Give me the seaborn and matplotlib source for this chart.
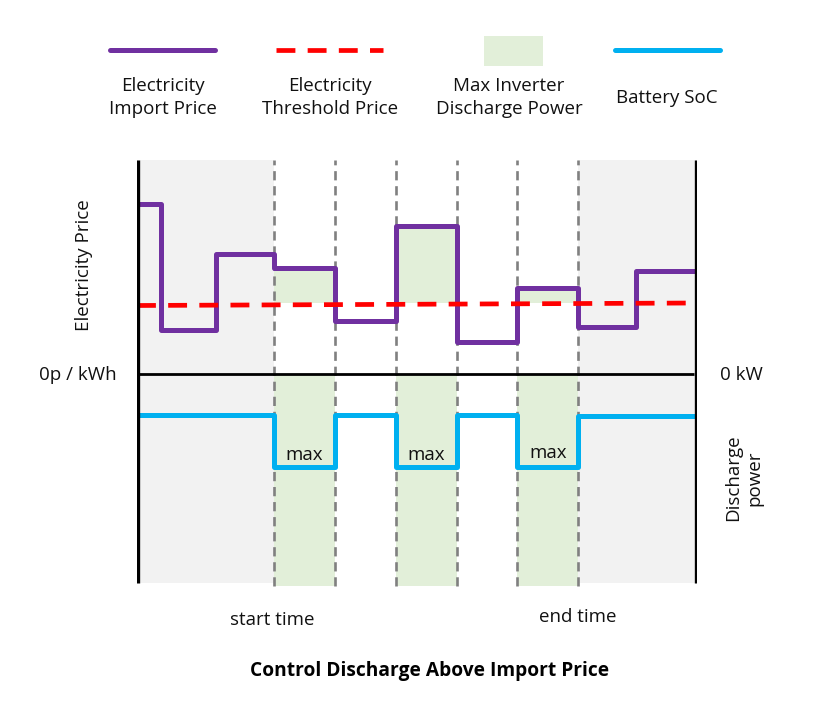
import matplotlib
matplotlib.use("Agg")
import matplotlib.pyplot as plt
import seaborn as sns
import pandas as pd
import numpy as np
from matplotlib.patches import Rectangle
from matplotlib.lines import Line2D

# ---------------- data ----------------
# time-slot boundaries (arbitrary time units)
slot_edges = [0, 0.4, 1.3, 2.25, 3.25, 4.25, 5.25, 6.25, 7.25, 8.2, 9.2]
# import price in each slot (p/kWh, illustrative)
import_price = [34.0, 8.8, 24.0, 21.2, 10.6, 29.6, 6.4, 17.2, 9.4, 20.6]
# threshold price at start and end
threshold_x = [0, 9.2]
threshold_price = [13.7, 14.2]
# control window
window_start = 2.25
window_end = 7.25
# discharge slots (start, end)
discharge_slots = [(2.25, 3.25), (4.25, 5.25), (6.25, 7.25)]
# battery discharge power line
battery_x = [0, 2.25, 3.25, 4.25, 5.25, 6.25, 7.25, 9.2]
battery_power = [-8.2, -18.6, -8.2, -18.6, -8.2, -18.6, -8.3, -8.1]
divider_x = [2.25, 3.25, 4.25, 5.25, 6.25, 7.25]

legend_labels = ["Electricity\nImport Price", "Electricity\nThreshold Price",
                 "Max Inverter\nDischarge Power", "Battery SoC"]

PURPLE = "#7030A0"
RED = "#FF0000"
GREEN = "#E2EFD9"
BLUE = "#00B0F0"
GRAY_BG = "#F2F2F2"
GRAY_LINE = "#808080"

sns.set_theme(style="white")
plt.rcParams['font.family'] = ['Open Sans', 'DejaVu Sans']

W, H = 829, 724
fig = plt.figure(figsize=(W / 100, H / 100), dpi=100)

def fx(px):
    return px / W

def fy(py):
    return 1 - py / H

# main axes: pixel x 137..697, y 160..587
ax = fig.add_axes([fx(137), fy(587), fx(697) - fx(137), fy(160) - fy(587)])
ax.set_xlim(0, 9.2)
ax.set_ylim(-42.6, 42.8)
ax.axis("off")

y_top = 42.8
y_bot = -41.8

# gray background outside control window
ax.fill_between([0, window_start], y_bot, y_top, color=GRAY_BG, lw=0, zorder=0)
ax.fill_between([window_end, 9.2], y_bot, y_top, color=GRAY_BG, lw=0, zorder=0)

# green shading
green_base = max(threshold_price)
for (a, b) in discharge_slots:
    i = slot_edges.index(a)
    p = import_price[i]
    ax.fill_between([a, b], green_base, p, color=GREEN, lw=0, zorder=1)
    ax.fill_between([a, b], y_bot - 0.6, 0, color=GREEN, lw=0, zorder=1)

# dashed dividers
ax.vlines(divider_x, -42.4, y_top, colors=GRAY_LINE, linestyles=(0, (3.5, 2.2)),
          lw=1.9, zorder=2)

# axes lines
ax.vlines([0.02, 9.18], y_bot, y_top, colors="black", lw=2.4, zorder=5)
ax.hlines(0, 0, 9.15, colors="black", lw=2.0, zorder=5)

# price step line
price_df = pd.DataFrame({"t": slot_edges, "price": import_price + [import_price[-1]]})
sns.lineplot(data=price_df, x="t", y="price", ax=ax, color=PURPLE, lw=3.6,
             drawstyle="steps-post", zorder=4, legend=False)

# threshold
thr_df = pd.DataFrame({"t": threshold_x, "price": threshold_price})
sns.lineplot(data=thr_df, x="t", y="price", ax=ax, color=RED, lw=3.4,
             zorder=4, legend=False, dashes=False)
ax.lines[-1].set_linestyle((0, (4, 2.6)))

# battery line
bat_df = pd.DataFrame({"t": battery_x, "p": battery_power})
sns.lineplot(data=bat_df, x="t", y="p", ax=ax, color=BLUE, lw=3.6,
             drawstyle="steps-post", zorder=4, legend=False)
ax.set_xlabel("")
ax.set_ylabel("")

fs = 13.5
# max labels
for (a, b), yy in zip(discharge_slots, [-16.2, -16.2, -15.8]):
    ax.text((a + b) / 2, yy, "max", ha="center", va="center", fontsize=fs, color="#111111", zorder=6)

# side texts
fig.text(fx(84), fy(265), "Electricity Price", rotation=90, ha="center", va="center", fontsize=fs, color="#111111")
fig.text(fx(78), fy(375), "0p / kWh", ha="center", va="center", fontsize=fs, color="#111111")
fig.text(fx(741), fy(375), "0 kW", ha="center", va="center", fontsize=fs, color="#111111")
fig.text(fx(744), fy(478), "Discharge\npower", rotation=90, ha="center", va="center", fontsize=fs,
         color="#111111", linespacing=1.25)
fig.text(fx(272), fy(620), "start time", ha="center", va="center", fontsize=fs, color="#111111")
fig.text(fx(578), fy(617), "end time", ha="center", va="center", fontsize=fs, color="#111111")
fig.text(fx(430), fy(671), "Control Discharge Above Import Price", ha="center", va="center",
         fontsize=13.8, fontweight="bold", color="black")

# legend (manual, top)
fig.add_artist(Line2D([fx(110), fx(215)], [fy(50), fy(50)], color=PURPLE, lw=3.6))
fig.add_artist(Line2D([fx(276), fx(383)], [fy(50), fy(50)], color=RED, lw=3.4,
                      linestyle=(0, (4, 2.6))))
fig.add_artist(Rectangle((fx(484), fy(66)), fx(543) - fx(484), fy(36) - fy(66),
                         facecolor=GREEN, edgecolor="none"))
fig.add_artist(Line2D([fx(615), fx(720)], [fy(50), fy(50)], color=BLUE, lw=3.6))

for cx, cy, lab in zip([163, 330, 509, 667], [97.5, 97.5, 97.5, 98], legend_labels):
    fig.text(fx(cx), fy(cy), lab, ha="center", va="center", fontsize=fs,
             color="#111111", linespacing=1.35)

fig.savefig("out.png", dpi=100)
